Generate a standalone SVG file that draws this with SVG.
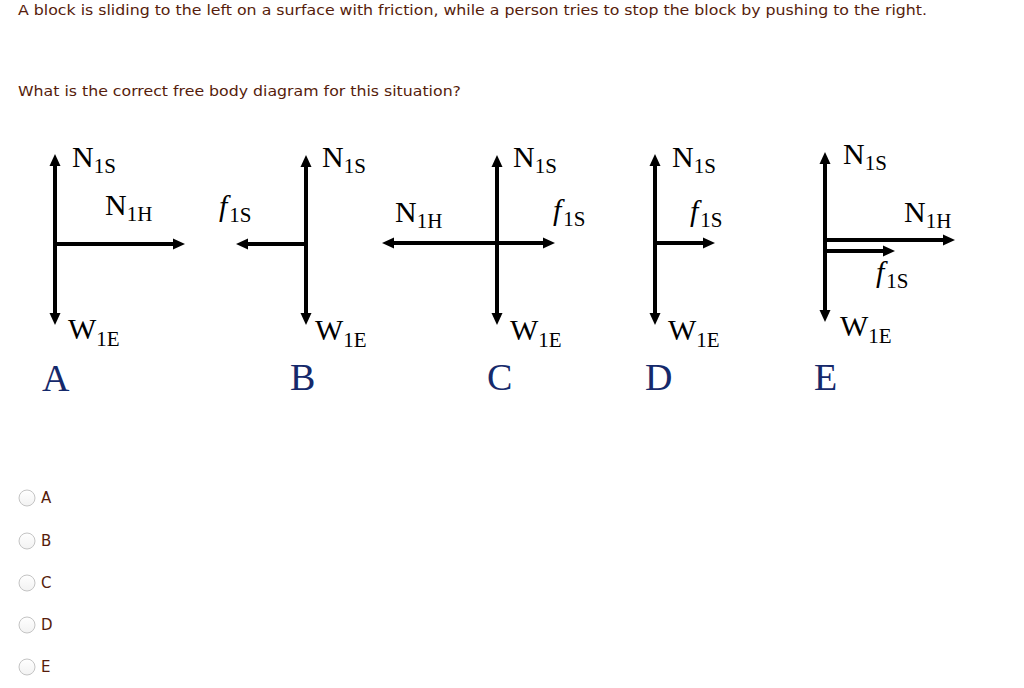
<svg xmlns="http://www.w3.org/2000/svg" width="1024" height="688" viewBox="0 0 1024 688">
<defs>
<marker id="ah" viewBox="0 0 12 12" refX="0" refY="6" markerWidth="12" markerHeight="12" markerUnits="userSpaceOnUse" orient="auto-start-reverse">
<path d="M0,0.5 L12,6 L0,11.5 z" fill="#000"/>
</marker>
<linearGradient id="rg" x1="0" y1="0" x2="0" y2="1">
<stop offset="0" stop-color="#ffffff"/>
<stop offset="1" stop-color="#f2f2f2"/>
</linearGradient>
</defs>
<style>
.q{font-family:"DejaVu Sans",Verdana,sans-serif;font-size:14px;fill:#561c0b}
.opt{font-family:"DejaVu Sans",Verdana,sans-serif;font-size:15px;fill:#561c0b}
.v{stroke:#000;stroke-width:4;fill:none}
.ar{marker-end:url(#ah)}
.da{marker-start:url(#ah);marker-end:url(#ah)}
.lb{font-family:"Liberation Serif","Times New Roman",serif;font-size:30px;fill:#000}
.it{font-style:italic}
.sub{font-family:"Liberation Serif","Times New Roman",serif;font-size:21px;font-style:normal}
.let{font-family:"Liberation Serif","Times New Roman",serif;font-size:38px;fill:#15296b}
.rb{fill:url(#rg);stroke:#c4c4c4;stroke-width:1}
</style>
<rect width="1024" height="688" fill="#fff"/>
<text class="q" x="18" y="15" textLength="909" lengthAdjust="spacingAndGlyphs">A block is sliding to the left on a surface with friction, while a person tries to stop the block by pushing to the right.</text>
<text class="q" x="18" y="96" textLength="443" lengthAdjust="spacingAndGlyphs">What is the correct free body diagram for this situation?</text>

<g id="fbd-A">
<g class="connectors">
<line class="v da" x1="55" y1="166" x2="55" y2="313"/>
<line class="v ar" x1="55" y1="244" x2="173" y2="244"/>
</g>
<text class="lb" x="72" y="167">N<tspan class="sub" dy="6">1S</tspan></text>
<text class="lb" x="105" y="215">N<tspan class="sub" dy="6">1H</tspan></text>
<text class="lb" x="68" y="339">W<tspan class="sub" dy="7">1E</tspan></text>
<text class="let" x="42" y="391">A</text>
</g>

<g id="fbd-B">
<g class="connectors">
<line class="v da" x1="306" y1="167" x2="306" y2="313"/>
<line class="v ar" x1="306" y1="244" x2="248" y2="244"/>
</g>
<text class="lb" x="322" y="167">N<tspan class="sub" dy="6">1S</tspan></text>
<text class="lb it" x="219" y="216">f<tspan class="sub" dx="2" dy="6">1S</tspan></text>
<text class="lb" x="315" y="340">W<tspan class="sub" dy="7">1E</tspan></text>
<text class="let" x="290" y="390">B</text>
</g>

<g id="fbd-C">
<g class="connectors">
<line class="v da" x1="497" y1="167" x2="497" y2="313"/>
<line class="v da" x1="394" y1="243" x2="543" y2="243"/>
</g>
<text class="lb" x="513" y="167">N<tspan class="sub" dy="6">1S</tspan></text>
<text class="lb" x="395" y="222">N<tspan class="sub" dy="6">1H</tspan></text>
<text class="lb it" x="553" y="220">f<tspan class="sub" dx="2" dy="6">1S</tspan></text>
<text class="lb" x="510" y="340">W<tspan class="sub" dy="7">1E</tspan></text>
<text class="let" x="487" y="390">C</text>
</g>

<g id="fbd-D">
<g class="connectors">
<line class="v da" x1="655" y1="166" x2="655" y2="313"/>
<line class="v ar" x1="655" y1="243" x2="703" y2="243"/>
</g>
<text class="lb" x="672" y="167">N<tspan class="sub" dy="6">1S</tspan></text>
<text class="lb it" x="690" y="221">f<tspan class="sub" dx="2" dy="6">1S</tspan></text>
<text class="lb" x="668" y="340">W<tspan class="sub" dy="7">1E</tspan></text>
<text class="let" x="645" y="390">D</text>
</g>

<g id="fbd-E">
<g class="connectors">
<line class="v da" x1="825" y1="164" x2="825" y2="310"/>
<line class="v ar" x1="825" y1="240" x2="943" y2="240"/>
<line class="v ar" x1="825" y1="251" x2="883" y2="251"/>
</g>
<text class="lb" x="843" y="164">N<tspan class="sub" dy="6">1S</tspan></text>
<text class="lb" x="904" y="222">N<tspan class="sub" dy="6">1H</tspan></text>
<text class="lb it" x="876" y="282">f<tspan class="sub" dx="2" dy="6">1S</tspan></text>
<text class="lb" x="840" y="336">W<tspan class="sub" dy="7">1E</tspan></text>
<text class="let" x="814" y="390">E</text>
</g>

<g id="options">
<circle class="rb" cx="27" cy="498" r="8"/><text class="opt" x="41" y="503">A</text>
<circle class="rb" cx="27" cy="541" r="8"/><text class="opt" x="41" y="546">B</text>
<circle class="rb" cx="27" cy="583" r="8"/><text class="opt" x="41" y="588">C</text>
<circle class="rb" cx="27" cy="625" r="8"/><text class="opt" x="41" y="630">D</text>
<circle class="rb" cx="27" cy="667" r="8"/><text class="opt" x="41" y="672">E</text>
</g>
</svg>
